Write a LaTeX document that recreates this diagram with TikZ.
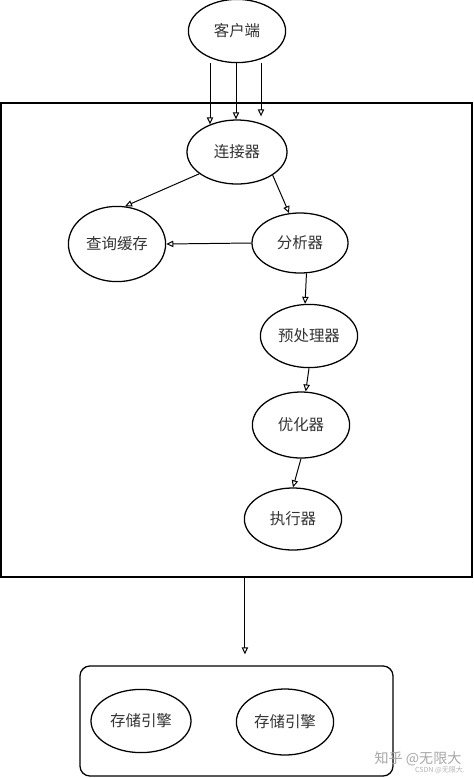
\documentclass[tikz,border=0pt]{standalone}
\usepackage{fontspec}
\setmainfont{Noto Sans CJK SC}
\usepackage{tkz-euclide}
\usetikzlibrary{shapes.geometric, arrows.meta}
\tikzset{>={Triangle[open, length=5pt, width=4.5pt]}}

\begin{document}
\begin{tikzpicture}[x=0.025cm, y=-0.025cm,
    bubble/.style={draw, ellipse, line width=0.9pt, inner sep=0pt,
        minimum width=2.43cm, minimum height=1.58cm,
        font=\fontsize{11}{13}\selectfont, text=black!80},
    frame/.style={draw, line width=0.9pt, inner sep=0pt},
    link/.style={->, line width=0.7pt}]
    \useasboundingbox (0,0) rectangle (474,778);
    \tkzDefPoints{237/31/K, 237/152/L, 117/244/Q, 300/243/F,
        309/336/Y, 301/425/O, 293/519/Z, 141/721/S, 285/722/T,
        236.5/340/M, 236.5/721/N, 418/759/W, 440/770/C}
    % server layer and storage layer
    \node[frame, minimum width=11.775cm, minimum height=11.85cm] (server) at (M) {};
    \node[frame, rounded corners=0.25cm, minimum width=7.825cm,
        minimum height=2.75cm] (engine) at (N) {};
    \node[bubble] (client) at (K) {客户端};
    \node[bubble, minimum width=2.5cm, minimum height=1.6cm] (conn) at (L) {连接器};
    \node[bubble, minimum height=1.88cm] (cache) at (Q) {查询缓存};
    \node[bubble, minimum width=2.4cm, minimum height=1.5cm] (parser) at (F) {分析器};
    \node[bubble] (prep) at (Y) {预处理器};
    \node[bubble, minimum height=1.65cm] (optim) at (O) {优化器};
    \node[bubble, minimum height=1.55cm] (exec) at (Z) {执行器};
    \node[bubble, minimum width=2.5cm] (store1) at (S) {存储引擎};
    \node[bubble, minimum height=1.65cm] (store2) at (T) {存储引擎};
    \foreach \dx/\dy in {-0.675/-0.125, -0.025/0, 0.6/0.075}
        \draw[link] ([xshift=\dx cm]client.south) -- ([xshift=\dx cm, yshift=\dy cm]conn.north);
    \draw[link] (conn.210) -- (cache.78);
    \draw[link] (conn.327) -- (parser.110);
    \draw[link] (parser.west) -- (cache.east);
    \draw[link] (parser.282) -- (prep.97);
    \draw[link] (prep.south) -- (optim.82);
    \draw[link] (optim.south) -- (exec.north);
    \draw[link] ([xshift=0.21cm]server.south) -- ([xshift=0.21cm, yshift=0.275cm]engine.north);
   %\tkzLabelPoints(K,L,Q,F)
    \node[text=black!35, font=\fontsize{10}{12}\selectfont] (mark) at (W) {知乎 @无限大};
    \node[text=black!30, font=\fontsize{5}{6}\selectfont] (csdn) at (C) {CSDN @无限大.};
\end{tikzpicture}
\end{document}
